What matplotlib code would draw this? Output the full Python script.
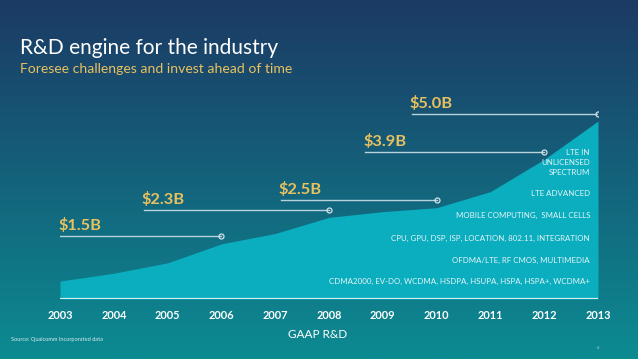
import matplotlib
matplotlib.use("Agg")
import matplotlib.pyplot as plt
import matplotlib.transforms as mtransforms
import numpy as np

plt.rcParams['font.family'] = ['Lato', 'DejaVu Sans']

# GAAP R&D spend, $B
years = [2003, 2004, 2005, 2006, 2007, 2008, 2009, 2010, 2011, 2012, 2013]
rnd = [0.50, 0.72, 1.01, 1.54, 1.83, 2.28, 2.44, 2.55, 3.00, 3.90, 4.97]

# callouts
callout_years = [2006, 2008, 2010, 2012, 2013]
callout_vals = [1.54, 2.28, 2.55, 3.90, 4.97]
callout_text = ["$1.5B", "$2.3B", "$2.5B", "$3.9B", "$5.0B"]
callout_start = [2003.0, 2004.56, 2007.1, 2008.67, 2009.54]

tech = ["CDMA2000, EV-DO, WCDMA, HSDPA, HSUPA, HSPA, HSPA+, WCDMA+",
        "OFDMA/LTE, RF CMOS, MULTIMEDIA",
        "CPU, GPU, DSP, ISP, LOCATION, 802.11, INTEGRATION",
        "MOBILE COMPUTING,  SMALL CELLS",
        "LTE ADVANCED",
        "LTE IN\nUNLICENSED\nSPECTRUM"]
tech_y = [0.48, 1.09, 1.70, 2.32, 2.96, 3.80]

gold = "#e8c160"
W, H = 638, 359
fig = plt.figure(figsize=(W / 100, H / 100), dpi=100)

# background gradient
bg = fig.add_axes([0, 0, 1, 1])
top = np.array([28, 58, 100]) / 255
bot = np.array([12, 139, 146]) / 255
t = np.linspace(0, 1, 256)[:, None]
grad = top * (1 - t) + bot * t
bg.imshow(grad[:, None, :].repeat(2, axis=1), aspect="auto", extent=[0, 1, 0, 1])
bg.set_axis_off()

ax = fig.add_axes([60 / W, 60 / H, 538 / W, 219 / H])
ax.patch.set_alpha(0)
ax.set_xlim(2003, 2013)
ax.set_ylim(0, 219 / 35.8)
ax.fill_between(years, rnd, 0, color="#0aaebf", lw=0, zorder=1)
ax.axhline(0, color="#d8eef0", lw=1.6, zorder=3)

up = mtransforms.offset_copy(ax.transData, fig=fig, x=0, y=7.5, units="dots")
txt_up = mtransforms.offset_copy(ax.transData, fig=fig, x=-2, y=18, units="dots")
for yr, v, s, x0 in zip(callout_years, callout_vals, callout_text, callout_start):
    ax.plot([x0, yr], [v, v], color="#b9d3dc", lw=1.0, transform=up, zorder=4)
    ax.plot([yr], [v], marker="o", ms=3.6, mfc="none", mec="#d0e2e8", mew=0.9,
            transform=up, zorder=5)
    ax.text(x0, v, s, transform=txt_up, color=gold, fontsize=11.8,
            fontweight="bold", ha="left", va="center")

for s, y in zip(tech, tech_y):
    ax.text(2012.85, y, s, color="#e6f4f6", fontsize=5.7, ha="right",
            va="center", linespacing=1.5)

ax.set_xticks(years)
ax.set_xticklabels([str(y) for y in years], color="white", fontsize=7.9,
                   fontweight="bold")
ax.tick_params(axis="x", length=0, pad=8)
ax.set_yticks([])
for sp in ax.spines.values():
    sp.set_visible(False)

fig.text(20 / W, 1 - 48 / H, "R&D engine for the industry", color="white",
         fontsize=15, va="center", ha="left")
fig.text(20 / W, 1 - 69 / H, "Foresee challenges and invest ahead of time",
         color=gold, fontsize=10.1, va="center", ha="left")
fig.text(318 / W, 1 - 335 / H, "GAAP R&D", color="white", fontsize=8.5,
         ha="center", va="center")
fig.text(11 / W, 1 - 340 / H, "Source: Qualcomm Incorporated data",
         color="#d5eaec", fontsize=4.1, ha="left", va="center")
fig.text(598 / W, 1 - 348 / H, "6", color="#b8d6d8", fontsize=3,
         ha="center", va="center")

fig.savefig("out.png", dpi=100)
